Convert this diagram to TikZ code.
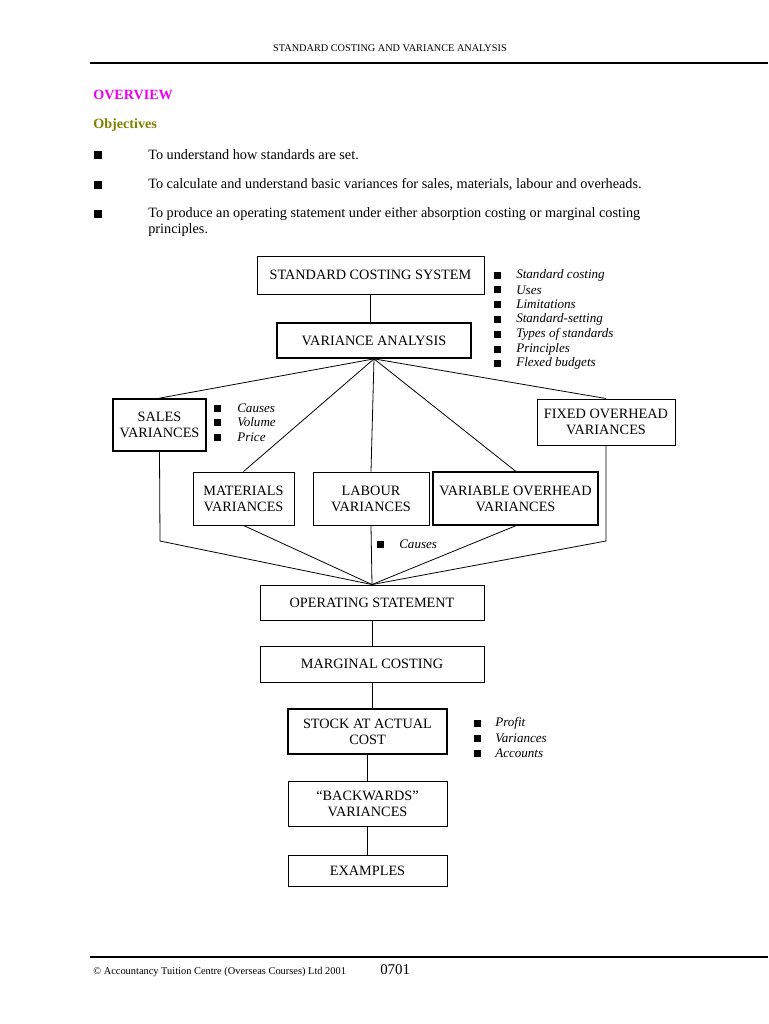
\documentclass[tikz,border=0pt]{standalone}
\usepackage{fontspec}
\setmainfont{Liberation Serif}
\usepackage{xcolor}
\definecolor{ovmagenta}{RGB}{235,0,235}
\definecolor{objolive}{RGB}{128,128,0}

\tikzset{
  box/.style={draw, line width=0.7pt, align=center, inner sep=0pt,
    font=\fontsize{10.7}{12}\selectfont},
  heavy/.style={line width=1.3pt},
  size/.style 2 args={minimum width=#1*0.75pt, minimum height=#2*0.75pt},
  item/.style={anchor=west, inner sep=0pt, font=\fontsize{9.8}{11}\selectfont\itshape},
  objtext/.style={anchor=west, inner sep=0pt, align=left, font=\fontsize{10.7}{12}\selectfont},
  link/.style={line width=0.6pt},
}

\begin{document}
\begin{tikzpicture}[x=0.75pt, y=-0.75pt]
    \useasboundingbox (0,0) rectangle (768,1024);

    % Page header
    \node[inner sep=0pt, font=\fontsize{7.7}{9}\selectfont] (head) at (390,48) {STANDARD COSTING AND VARIANCE ANALYSIS};
    \draw[line width=1.5pt] (90,63) -- (768,63);

    % Overview and objectives
    \node[anchor=west, inner sep=0pt, font=\fontsize{10.6}{12}\selectfont\bfseries, text=ovmagenta] (overview) at (93,95) {OVERVIEW};
    \node[anchor=west, inner sep=0pt, font=\fontsize{10.6}{12}\selectfont\bfseries, text=objolive] (objectives) at (93,125) {Objectives};
    \foreach \y in {155,185,214} {
        \fill (94,\y-4) rectangle ++(8,8);
    }
    \node[objtext] (obja) at (148,155) {To understand how standards are set.};
    \node[objtext] (objb) at (148,185) {To calculate and understand basic variances for sales, materials, labour and overheads.};
    \node[objtext] (objc) at (148,222) {To produce an operating statement under either absorption costing or marginal costing\\principles.};

    % Boxes
    \node[box, size={227}{38}] (scs) at (370.5,275) {STANDARD COSTING SYSTEM};
    \node[box, heavy, size={194}{35}] (va) at (374,340.5) {VARIANCE ANALYSIS};
    \node[box, heavy, size={93}{52}] (sales) at (159.5,425) {SALES\\VARIANCES};
    \node[box, size={138}{46}] (fixed) at (606,422) {FIXED OVERHEAD\\VARIANCES};
    \node[box, size={101}{53}] (mat) at (243.5,498.5) {MATERIALS\\VARIANCES};
    \node[box, size={116}{53}] (lab) at (371,498.5) {LABOUR\\VARIANCES};
    \node[box, heavy, size={165}{53}] (voh) at (515.5,498.5) {VARIABLE OVERHEAD\\VARIANCES};
    \node[box, size={224}{35}] (os) at (372,602.5) {OPERATING STATEMENT};
    \node[box, size={224}{36}] (mc) at (372,664) {MARGINAL COSTING};
    \node[box, heavy, size={159}{45}] (stock) at (367.5,731.5) {STOCK AT ACTUAL\\COST};
    \node[box, size={159}{45}] (back) at (367.5,803.5) {``BACKWARDS''\\VARIANCES};
    \node[box, size={159}{31}] (ex) at (367.5,870.5) {EXAMPLES};

    % Connectors
    \draw[link] (scs.south) -- (scs.south |- va.north);
    \foreach \n in {sales,mat,lab,voh,fixed} {
        \draw[link] (va.south) -- (\n.north);
    }
    \coordinate (salesturn) at (160,541);
    \coordinate (fixedturn) at (606,541);
    \draw[link] (sales.south) -- (salesturn) -- (os.north);
    \draw[link] (fixed.south) -- (fixedturn) -- (os.north);
    \foreach \n in {mat,lab,voh} {
        \draw[link] (\n.south) -- (os.north);
    }
    \draw[link] (os) -- (mc);
    \draw[link] (mc.south) -- (mc.south |- stock.north);
    \draw[link] (stock) -- (back);
    \draw[link] (back) -- (ex);

    % Side notes
    \foreach \t [count=\i from 0] in {Standard costing,Uses,Limitations,Standard-setting,Types of standards,Principles,Flexed budgets} {
        \fill (494,275+14.8*\i-3.5) rectangle ++(7,7);
        \node[item] (scsnote\i) at (516,275+14.8*\i) {\t};
    }
    \foreach \t [count=\i from 0] in {Causes,Volume,Price} {
        \fill (214,408+14.5*\i-3.5) rectangle ++(7,7);
        \node[item] (salesnote\i) at (237,408+14.5*\i) {\t};
    }
    \fill (377,544-3.5) rectangle ++(7,7);
    \node[item] (labnote) at (399,544) {Causes};
    \foreach \t [count=\i from 0] in {Profit,Variances,Accounts} {
        \fill (474,723+15*\i-3.5) rectangle ++(7,7);
        \node[item] (stocknote\i) at (495,723+15*\i) {\t};
    }

    % Page footer
    \draw[line width=1.2pt] (90,957) -- (768,957);
    \node[anchor=west, inner sep=0pt, font=\fontsize{7.8}{9}\selectfont] (copy) at (93,972) {\textcopyright\ Accountancy Tuition Centre (Overseas Courses) Ltd 2001};
    \node[anchor=west, inner sep=0pt, font=\fontsize{11.2}{13}\selectfont] (pageno) at (380,970) {0701};
\end{tikzpicture}
\end{document}
